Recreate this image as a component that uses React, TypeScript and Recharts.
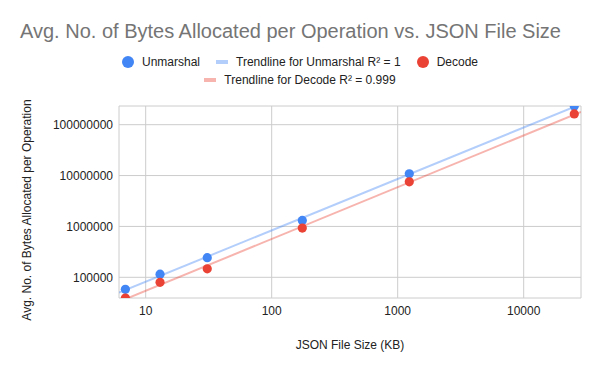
import {
  ComposedChart,
  Scatter,
  Line,
  XAxis,
  YAxis,
  CartesianGrid,
  Label,
} from "recharts";

// values (log-log scatter)
const fileSizeKB = [6.9, 13, 30.8, 175, 1236, 25200];
const unmarshalBytes = [58000, 115000, 243000, 1310000, 10800000, 233000000];
const decodeBytes = [39200, 79800, 147000, 930000, 7520000, 163000000];
const xTicks = [10, 100, 1000, 10000];
const yTicks = [100000, 1000000, 10000000, 100000000];
const xDomain = [6.14, 28500];
const yDomain = [39200, 233000000];
const seriesNames = ["Unmarshal", "Decode"];
const rSquared = ["1", "0.999"];

const BLUE = "#4285f4";
const RED = "#ea4335";
const FONT = "Arial, 'Liberation Sans', sans-serif";

const toPoints = (ys: number[]) => fileSizeKB.map((x, i) => ({ x, y: ys[i] }));

// power trendline: least squares on log10 values, drawn across the whole x range
function powerTrend(ys: number[]) {
  const lx = fileSizeKB.map(Math.log10);
  const ly = ys.map(Math.log10);
  const n = lx.length;
  const mx = lx.reduce((a, b) => a + b, 0) / n;
  const my = ly.reduce((a, b) => a + b, 0) / n;
  let sxy = 0;
  let sxx = 0;
  for (let i = 0; i < n; i++) {
    sxy += (lx[i] - mx) * (ly[i] - my);
    sxx += (lx[i] - mx) ** 2;
  }
  const slope = sxy / sxx;
  const icpt = my - slope * mx;
  return xDomain.map((x) => ({ x, y: 10 ** (icpt + slope * Math.log10(x)) }));
}

const unmarshalData = toPoints(unmarshalBytes);
const decodeData = toPoints(decodeBytes);
const unmarshalTrend = powerTrend(unmarshalBytes);
const decodeTrend = powerTrend(decodeBytes);

const dot = (color: string) => (p: any) =>
  <circle cx={p.cx} cy={p.cy} r={4.6} fill={color} />;

function LegendDot({ color, label }: { color: string; label: string }) {
  return (
    <span style={{ display: "inline-flex", alignItems: "center", margin: "0 8px" }}>
      <span
        style={{
          width: 12,
          height: 12,
          borderRadius: 6,
          background: color,
          marginRight: 8,
        }}
      />
      {label}
    </span>
  );
}

function LegendLine({ color, label }: { color: string; label: string }) {
  return (
    <span style={{ display: "inline-flex", alignItems: "center", margin: "0 8px" }}>
      <span
        style={{
          width: 12,
          height: 4,
          background: color,
          opacity: 0.4,
          marginRight: 8,
        }}
      />
      {label}
    </span>
  );
}

export default function App() {
  return (
    <div
      style={{
        position: "absolute",
        left: 0,
        top: 0,
        width: 600,
        height: 371,
        background: "#fff",
        fontFamily: FONT,
      }}
    >
      <div
        style={{
          position: "absolute",
          left: 20,
          top: 20,
          fontSize: 20,
          color: "#757575",
          whiteSpace: "nowrap",
        }}
      >
        Avg. No. of Bytes Allocated per Operation vs. JSON File Size
      </div>
      <div
        style={{
          position: "absolute",
          left: 0,
          top: 53,
          width: 600,
          fontSize: 12,
          color: "#222",
          lineHeight: "18px",
          whiteSpace: "nowrap",
        }}
      >
        <div style={{ display: "flex", justifyContent: "center" }}>
          <LegendDot color={BLUE} label={seriesNames[0]} />
          <LegendLine
            color={BLUE}
            label={`Trendline for ${seriesNames[0]} R² = ${rSquared[0]}`}
          />
          <LegendDot color={RED} label={seriesNames[1]} />
        </div>
        <div style={{ display: "flex", justifyContent: "center" }}>
          <LegendLine
            color={RED}
            label={`Trendline for ${seriesNames[1]} R² = ${rSquared[1]}`}
          />
        </div>
      </div>
      <ComposedChart
        width={600}
        height={371}
        margin={{ top: 106, right: 19, bottom: 0, left: 0 }}
        style={{ fontFamily: FONT }}
      >
        <CartesianGrid stroke="#cccccc" />
        <XAxis
          dataKey="x"
          type="number"
          scale="log"
          domain={xDomain}
          ticks={xTicks}
          allowDataOverflow
          axisLine={false}
          tickLine={false}
          height={73}
          tick={{ fontSize: 12, fill: "#222" }}
        >
          <Label
            content={({ viewBox }: any) => (
              <text
                x={viewBox.x + viewBox.width / 2}
                y={viewBox.y + 47}
                textAnchor="middle"
                dominantBaseline="central"
                fontSize={12}
                fill="#222"
              >
                JSON File Size (KB)
              </text>
            )}
          />
        </XAxis>
        <YAxis
          type="number"
          scale="log"
          domain={yDomain}
          ticks={yTicks}
          allowDataOverflow
          axisLine={false}
          tickLine={false}
          tickSize={4}
          tickMargin={2}
          width={119}
          tick={{ fontSize: 12, fill: "#222" }}
        >
          <Label
            content={({ viewBox }: any) => {
              const cx = viewBox.x + 27;
              const cy = viewBox.y + viewBox.height / 2 + 8;
              return (
                <text
                  x={cx}
                  y={cy}
                  transform={`rotate(-90 ${cx} ${cy})`}
                  textAnchor="middle"
                  dominantBaseline="central"
                  fontSize={12}
                  fill="#222"
                >
                  Avg. No. of Bytes Allocated per Operation
                </text>
              );
            }}
          />
        </YAxis>
        <Line
          data={unmarshalTrend}
          dataKey="y"
          stroke={BLUE}
          strokeOpacity={0.4}
          strokeWidth={2}
          dot={false}
          activeDot={false}
          isAnimationActive={false}
        />
        <Line
          data={decodeTrend}
          dataKey="y"
          stroke={RED}
          strokeOpacity={0.4}
          strokeWidth={2}
          dot={false}
          activeDot={false}
          isAnimationActive={false}
        />
        <Scatter
          data={unmarshalData}
          dataKey="y"
          shape={dot(BLUE)}
          isAnimationActive={false}
        />
        <Scatter
          data={decodeData}
          dataKey="y"
          shape={dot(RED)}
          isAnimationActive={false}
        />
      </ComposedChart>
    </div>
  );
}
